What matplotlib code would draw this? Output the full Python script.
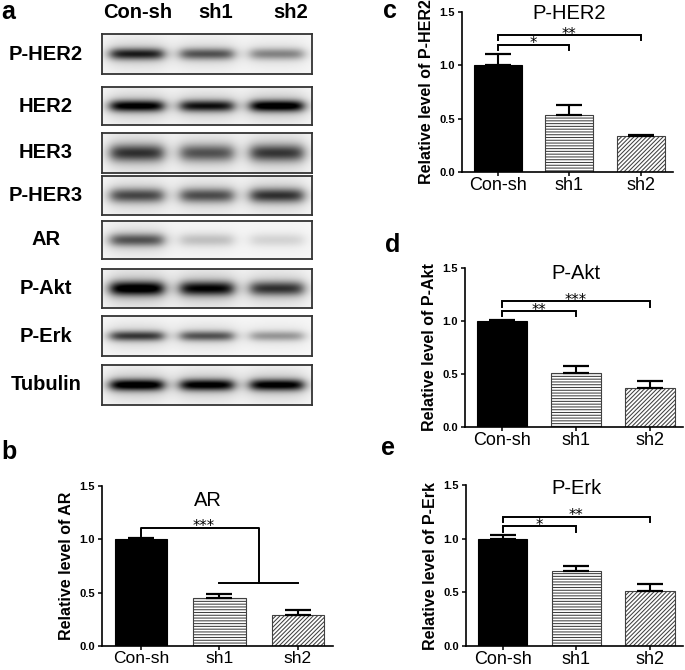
import numpy as np
import matplotlib
matplotlib.use("Agg")
import matplotlib.pyplot as plt
from matplotlib import font_manager
from matplotlib.ticker import FormatStrFormatter

W, H = 685, 670

groups = ["Con-sh", "sh1", "sh2"]

# western blot: relative band darkness per lane (Con-sh, sh1, sh2)
blot_proteins = ["P-HER2", "HER2", "HER3", "P-HER3", "AR", "P-Akt", "P-Erk", "Tubulin"]
blot_bands = [
    [0.80, 0.60, 0.42],
    [0.95, 0.85, 1.00],
    [0.72, 0.60, 0.70],
    [0.64, 0.62, 0.72],
    [0.60, 0.20, 0.13],
    [1.00, 0.90, 0.72],
    [0.70, 0.60, 0.35],
    [1.00, 0.95, 0.95],
]

# quantification (mean, upper error)
ar_mean = [1.0, 0.45, 0.29]
ar_err = [0.01, 0.04, 0.045]
pher2_mean = [1.0, 0.53, 0.34]
pher2_err = [0.11, 0.10, 0.01]
pakt_mean = [1.0, 0.51, 0.365]
pakt_err = [0.01, 0.07, 0.065]
perk_mean = [1.0, 0.70, 0.51]
perk_err = [0.03, 0.05, 0.065]

ar_sig = "***"
pher2_sig = ["*", "**"]
pakt_sig = ["**", "***"]
perk_sig = ["*", "**"]

names = {f.name for f in font_manager.fontManager.ttflist}
narrow = "Liberation Sans Narrow" if "Liberation Sans Narrow" in names else "Liberation Sans"
plt.rcParams["font.family"] = ["Liberation Sans", "DejaVu Sans"]
plt.rcParams["hatch.linewidth"] = 0.75


def rect(x0, y0, x1, y1):
    return [x0 / W, 1 - y1 / H, (x1 - x0) / W, (y1 - y0) / H]


def band_image(levels, sy, h_px, w_px):
    ny, nx = h_px * 3, w_px * 3
    yy = (np.arange(ny) + 0.5) / 3 - h_px / 2
    xx = (np.arange(nx) + 0.5) / 3
    img = np.zeros((ny, nx))
    hw = 0.125 * w_px
    for i, lev in enumerate(levels):
        cx = w_px * (i + 0.5) / 3
        core_x = 1 / (1 + np.exp((np.abs(xx - cx) - hw) / 3.5))
        haze_x = 1 / (1 + np.exp((np.abs(xx - cx) - hw * 1.1) / 6))
        core_y = np.exp(-yy ** 2 / (2 * sy ** 2))
        haze_y = np.exp(-yy ** 2 / (2 * (sy * 2.8) ** 2))
        img += lev * (0.9 * np.outer(core_y, core_x) + 0.2 * np.outer(haze_y, haze_x))
    return np.clip(0.97 - img, 0, 1)


fig = plt.figure(figsize=(W / 100, H / 100), dpi=100)

# ---- panel a: blot ----
rows = [(34, 74), (87, 125), (133, 173), (176, 215), (221, 259), (269, 308), (316, 356), (365, 405)]
band_sigma = [4, 4, 6, 5, 4.5, 5, 3.5, 4]
bx0, bx1 = 102, 312
for name, levels, (y0, y1), sy in zip(blot_proteins, blot_bands, rows, band_sigma):
    ax = fig.add_axes(rect(bx0, y0, bx1, y1))
    ax.imshow(band_image(levels, sy, y1 - y0, bx1 - bx0), cmap="gray", vmin=0, vmax=1,
              aspect="auto", interpolation="bilinear")
    ax.set_xticks([])
    ax.set_yticks([])
    for s in ax.spines.values():
        s.set_linewidth(1.3)
        s.set_color("#333333")
    fig.text(46 / W, 1 - (y0 + y1) / 2 / H, name, ha="center", va="center",
             fontsize=14.5, fontweight="bold")

for g, xc in zip(groups, [138, 216, 291]):
    fig.text(xc / W, 1 - 13 / H, g, ha="center", va="center", fontsize=14.5, fontweight="bold")

for lab, (lx, ly) in zip("abcde", [(1, 12), (1, 452), (383, 11), (385, 245), (381, 448)]):
    fig.text(lx / W, 1 - ly / H, lab, ha="left", va="center", fontsize=18, fontweight="bold")


# ---- bar panels ----
def bar_panel(ax, means, errs, title, ylabel, title_xy=(1.0, 1.45)):
    x = np.arange(3)
    ax.bar(x[0], means[0], width=0.67, color="black", edgecolor="black", linewidth=0.8, zorder=2)
    ax.bar(x[1], means[1], width=0.67, color="white", edgecolor="#404040", linewidth=0.8,
           hatch="------", zorder=2)
    ax.bar(x[2], means[2], width=0.67, color="white", edgecolor="#404040", linewidth=0.8,
           hatch="////////", zorder=2)
    ax.errorbar(x, means, yerr=[np.zeros(3), errs], fmt="none", ecolor="black",
                elinewidth=1.5, capsize=9.5, capthick=1.6, zorder=3)
    ax.set_xlim(-0.5, 2.45)
    ax.set_ylim(0, 1.5)
    ax.set_yticks([0, 0.5, 1.0, 1.5])
    ax.yaxis.set_major_formatter(FormatStrFormatter("%.1f"))
    ax.set_xticks(x)
    ax.set_xticklabels(groups, fontsize=13, family=narrow)
    for t in ax.get_yticklabels():
        t.set_fontsize(8)
        t.set_fontweight("bold")
        t.set_family(narrow)
    ax.tick_params(axis="both", length=3, width=1.1, pad=2)
    ax.tick_params(axis="x", pad=0.5)
    ax.spines["top"].set_visible(False)
    ax.spines["right"].set_visible(False)
    ax.spines["left"].set_linewidth(1.2)
    ax.spines["bottom"].set_linewidth(1.2)
    ax.patch.set_alpha(0)
    ax.text(title_xy[0], title_xy[1], title, ha="center", va="center", fontsize=14.5, family=narrow)
    ax.set_ylabel(ylabel, fontsize=11.5, fontweight="bold", family=narrow, labelpad=4)


def stars(ax, x, y, label):
    ax.text(x, y - 0.035, label, ha="center", va="baseline", fontsize=10.5, family="DejaVu Sans")


def bracket(ax, xa, xb, y, label, drop=0.05):
    ax.plot([xa, xa, xb, xb], [y - drop, y, y, y - drop], color="black", lw=1.4,
            solid_joinstyle="miter", zorder=4)
    stars(ax, (xa + xb) / 2, y, label)


def two_brackets(ax, means, errs, sig):
    h1 = means[0] + errs[0] + 0.085
    h2 = h1 + 0.09
    bracket(ax, 0, 1, h1, sig[0])
    bracket(ax, 0, 2, h2, sig[1])


axb = fig.add_axes(rect(102, 486, 333, 646))
bar_panel(axb, ar_mean, ar_err, "AR", "Relative level of AR", title_xy=(0.85, 1.36))
for t in axb.get_xticklabels():
    t.set_fontsize(12.5)
top = ar_mean[0] + ar_err[0] + 0.1
low = max(m + e for m, e in zip(ar_mean[1:], ar_err[1:])) + 0.1
axb.plot([0, 0, 1.5, 1.5], [top - 0.08, top, top, low], color="black", lw=1.4, zorder=4)
axb.plot([1, 2], [low, low], color="black", lw=1.4, zorder=4)
stars(axb, 0.8, top, ar_sig)

axc = fig.add_axes(rect(462, 12, 673, 172))
bar_panel(axc, pher2_mean, pher2_err, "P-HER2", "Relative level of P-HER2", title_xy=(1.0, 1.49))
two_brackets(axc, pher2_mean, pher2_err, pher2_sig)

axd = fig.add_axes(rect(465, 268, 683, 427))
bar_panel(axd, pakt_mean, pakt_err, "P-Akt", "Relative level of P-Akt", title_xy=(1.0, 1.45))
two_brackets(axd, pakt_mean, pakt_err, pakt_sig)

axe = fig.add_axes(rect(466, 485, 683, 646))
bar_panel(axe, perk_mean, perk_err, "P-Erk", "Relative level of P-Erk", title_xy=(1.0, 1.47))
two_brackets(axe, perk_mean, perk_err, perk_sig)

fig.savefig("out.png", dpi=100)
